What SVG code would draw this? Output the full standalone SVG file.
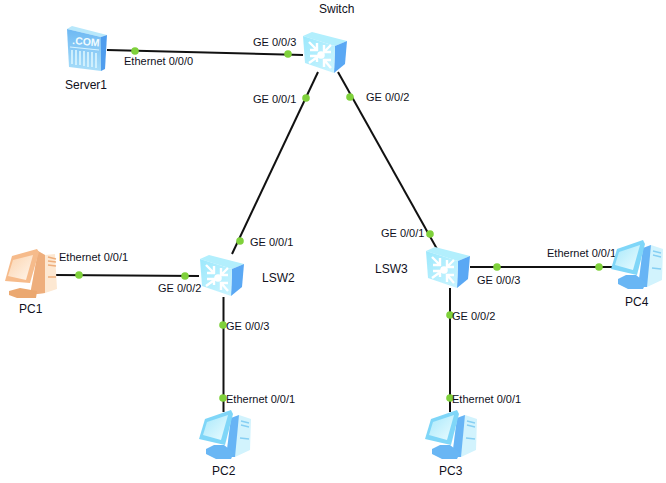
<svg xmlns="http://www.w3.org/2000/svg" xmlns:xlink="http://www.w3.org/1999/xlink" width="666" height="483" viewBox="0 0 666 483">
<style>
text{font-family:"Liberation Sans",Arial,sans-serif;font-size:11px;fill:#10101c}
.n{font-size:12px}
.l{stroke:#111;stroke-width:2;fill:none}
.d{fill:#7fd13b}
</style>
<defs>
<linearGradient id="sw" x1="0" y1="0" x2="1" y2="1"><stop offset="0" stop-color="#9ce8fc"/><stop offset="1" stop-color="#cdf5ff"/></linearGradient>
<linearGradient id="scr" x1="0" y1="0" x2="1" y2="1"><stop offset="0" stop-color="#a8e8fb"/><stop offset="1" stop-color="#eafcff"/></linearGradient>
<linearGradient id="srv" x1="0" y1="0" x2="0" y2="1"><stop offset="0" stop-color="#6db8f3"/><stop offset="1" stop-color="#a9def9"/></linearGradient>
<linearGradient id="scro" x1="0" y1="0" x2="1" y2="1"><stop offset="0" stop-color="#fbd3ae"/><stop offset="1" stop-color="#fff6ec"/></linearGradient>
<symbol id="switch" viewBox="0 0 44 42" width="44" height="42" overflow="visible">
<polygon points="0,4 9,0 44,9 32,14" fill="#b2effd"/>
<polygon points="32,14 44,9 42,32 31,41" fill="#5aa8f4"/>
<polygon points="0,4 32,14 31,41 2,31" fill="url(#sw)"/>
<g stroke="#fff" stroke-width="2.400" fill="none">
<path d="M6,10 L13,17 M14,11 V18 H7"/>
<path d="M28,13 L22,19 M21,13 V20 H28"/>
<path d="M6,31 L13,26 M7,24 H14 V30"/>
<path d="M28,36 L22,29 M21,35 V28 H28"/>
</g>
<circle cx="18" cy="23" r="3.800" fill="#fff"/>
</symbol>
<symbol id="pc" viewBox="0 0 50 48" width="50" height="48" overflow="visible">
<polygon points="31,7 39,4 51,8 50,39 35,46 26,46" fill="#d2f3fd"/>
<polygon points="31,7 39,4 35,46 26,46" fill="#67b4f5"/>
<path d="M41,10 L49,12 M41,14 L49,16 M40,27 L49,28" stroke="#86cff3" stroke-width="1.300"/>
<polygon points="6,38 14,34 24,34 34,42 31,48 16,48 6,43" fill="#69b6f4"/>
<polygon points="5,8 31,-1 33,3 25,34 -1,28" fill="#7fd6f8"/>
<polygon points="7,11 28,4 21,29 3,24" fill="url(#scr)"/>
</symbol>
<symbol id="pco" viewBox="0 0 51 48" width="51" height="48" overflow="visible">
<polygon points="33,0 40,4 50,3 52,38 40,42 25,44" fill="#fde8d2"/>
<polygon points="33,0 40,4 40,42 25,44" fill="#eeae7c"/>
<path d="M43,6 L51,8 M43,10 L51,11 M43,14 L51,15 M43,26 L51,26" stroke="#eeae7c" stroke-width="1.300"/>
<polygon points="4,40 15,37 32,40 31,47 12,47 4,44" fill="#eba870"/>
<polygon points="7,5 32,-2 34,1 25,32 0,30" fill="#f6bb8b"/>
<polygon points="8,9 28,4 21,29 3,25" fill="url(#scro)"/>
</symbol>
<symbol id="server" viewBox="0 0 40 47" width="40" height="47" overflow="visible">
<polygon points="0,2 5,-1 40,8 34,10" fill="#b8e8fb"/>
<polygon points="34,10 40,8 38,42 34,44" fill="#4f9dee"/>
<polygon points="0,2 34,10 34,44 2,40" fill="url(#srv)"/>
<path d="M3,20 L32,23" stroke="#d8f4ff" stroke-width="1.200"/>
<path d="M5,23 V37 M9,23 V38 M13,24 V38 M17,24 V39 M21,25 V40 M25,25 V40 M29,26 V41" stroke="#d4f2fd" stroke-width="1.800"/>
<text x="5" y="17" style="font-family:'Liberation Sans',sans-serif;font-size:10.500px;font-weight:bold;fill:#f0fcff" transform="rotate(5 5 17)">.COM</text>
</symbol>
</defs>
<rect width="666" height="483" fill="#fff"/>
<g id="connectors">
<path class="l" d="M107,50 L303,55"/>
<path class="l" d="M318,72 L232,254"/>
<path class="l" d="M338,72 L437,249"/>
<path class="l" d="M56,275 L199,276"/>
<path class="l" d="M223.500,297 V412"/>
<path class="l" d="M450,288 V412"/>
<path class="l" d="M470,267 H613"/>
<g>
<circle class="d" cx="135" cy="51" r="3.800"/><circle class="d" cx="288" cy="54" r="3.800"/>
<circle class="d" cx="306" cy="98" r="3.800"/><circle class="d" cx="240" cy="241" r="3.800"/>
<circle class="d" cx="350" cy="97" r="3.800"/><circle class="d" cx="430" cy="234" r="3.800"/>
<circle class="d" cx="79" cy="275" r="3.800"/><circle class="d" cx="185" cy="276" r="3.800"/>
<circle class="d" cx="223" cy="325" r="3.800"/><circle class="d" cx="223" cy="398" r="3.800"/>
<circle class="d" cx="450" cy="315" r="3.800"/><circle class="d" cx="450" cy="398" r="3.800"/>
<circle class="d" cx="497" cy="267" r="3.800"/><circle class="d" cx="599" cy="267" r="3.800"/>
</g>
<g>
<text x="124" y="65">Ethernet 0/0/0</text>
<text x="253" y="46">GE 0/0/3</text>
<text x="253" y="103">GE 0/0/1</text>
<text x="366" y="101">GE 0/0/2</text>
<text x="250" y="246">GE 0/0/1</text>
<text x="381" y="237">GE 0/0/1</text>
<text x="59" y="261">Ethernet 0/0/1</text>
<text x="158" y="292">GE 0/0/2</text>
<text x="226" y="330">GE 0/0/3</text>
<text x="226" y="403">Ethernet 0/0/1</text>
<text x="452" y="320">GE 0/0/2</text>
<text x="452" y="403">Ethernet 0/0/1</text>
<text x="477" y="284">GE 0/0/3</text>
<text x="547" y="257">Ethernet 0/0/1</text>
</g>
</g>
<g id="Server1"><use xlink:href="#server" href="#server" x="67" y="27"/><text class="n" x="65" y="89">Server1</text></g>
<g id="Switch"><use xlink:href="#switch" href="#switch" x="303" y="32"/><text class="n" x="319" y="13">Switch</text></g>
<g id="LSW2"><use xlink:href="#switch" href="#switch" x="200" y="255"/><text class="n" x="262" y="282">LSW2</text></g>
<g id="LSW3"><use xlink:href="#switch" href="#switch" x="426" y="247"/><text class="n" x="375" y="273">LSW3</text></g>
<g id="PC1"><use xlink:href="#pco" href="#pco" x="5" y="251"/><text class="n" x="19" y="313">PC1</text></g>
<g id="PC2"><use xlink:href="#pc" href="#pc" x="200" y="411"/><text class="n" x="212" y="475">PC2</text></g>
<g id="PC3"><use xlink:href="#pc" href="#pc" x="426" y="411"/><text class="n" x="439" y="475">PC3</text></g>
<g id="PC4"><use xlink:href="#pc" href="#pc" x="612" y="241"/><text class="n" x="625" y="306">PC4</text></g>
</svg>
